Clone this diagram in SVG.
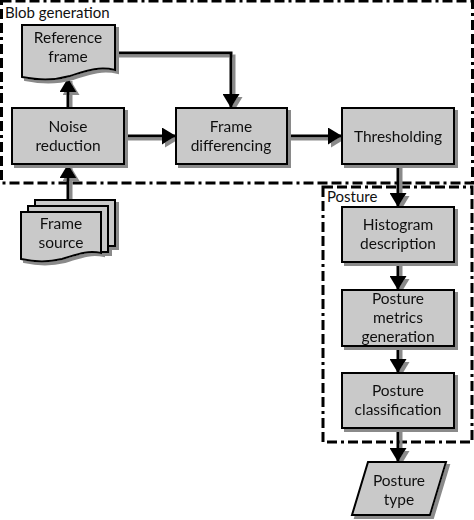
<svg xmlns="http://www.w3.org/2000/svg" width="474" height="520" viewBox="0 0 474 520">
<style>
.frame{fill:none;stroke:#000;stroke-width:3;stroke-dasharray:10 4 10 4 10 4 3 4}
.box{fill:#c9c9c9;stroke:#000;stroke-width:2}
.t{font-family:Lato,"Open Sans",sans-serif;font-size:15.5px;fill:#111;text-anchor:middle}
.lbl{font-family:Lato,"Open Sans",sans-serif;font-size:15px;fill:#111}
.c{fill:none;stroke:#000;stroke-width:3}
</style>
<defs>
<filter id="sh" x="-10%" y="-10%" width="130%" height="130%">
<feOffset in="SourceAlpha" dx="3" dy="3" result="o"/>
<feFlood flood-color="#8a8a8a"/>
<feComposite in2="o" operator="in" result="s"/>
<feMerge><feMergeNode in="s"/><feMergeNode in="SourceGraphic"/></feMerge>
</filter>
<marker id="ah" viewBox="0 0 14 17" markerUnits="userSpaceOnUse" markerWidth="14" markerHeight="17" refX="14" refY="8.5" orient="auto">
<path d="M0,0 L14,8.5 L0,17 Z" fill="#000"/>
</marker>
</defs>
<rect width="474" height="520" fill="#fff"/>
<g id="blob-generation">
<rect class="frame" x="1.5" y="1" width="471" height="182"/>
<text class="lbl" x="5" y="18">Blob generation</text>
</g>
<g id="posture-group">
<rect class="frame" x="323" y="187" width="149" height="255"/>
<text class="lbl" x="327" y="202">Posture</text>
</g>
<g id="connectors" filter="url(#sh)">
<path class="c" d="M68,200 V164" marker-end="url(#ah)"/>
<path class="c" d="M68,108 V78" marker-end="url(#ah)"/>
<path class="c" d="M124,136 H176" marker-end="url(#ah)"/>
<path class="c" d="M115,53 H231 V108" marker-end="url(#ah)"/>
<path class="c" d="M287,136 H342" marker-end="url(#ah)"/>
<path class="c" d="M398,164 V207" marker-end="url(#ah)"/>
<path class="c" d="M398,262 V290" marker-end="url(#ah)"/>
<path class="c" d="M398,346 V373" marker-end="url(#ah)"/>
<path class="c" d="M398,428 V462" marker-end="url(#ah)"/>
</g>
<g id="reference-frame" filter="url(#sh)">
<path class="box" d="M22,25 H115 V70 C98,66 86,71 70,76 C52,81 38,80 22,77 Z"/>
<text class="t" x="68" y="43">Reference</text>
<text class="t" x="68" y="62">frame</text>
</g>
<g id="noise-reduction" filter="url(#sh)">
<rect class="box" x="12" y="108" width="112" height="56"/>
<text class="t" x="68" y="132">Noise</text>
<text class="t" x="68" y="151">reduction</text>
</g>
<g id="frame-differencing" filter="url(#sh)">
<rect class="box" x="176" y="108" width="111" height="56"/>
<text class="t" x="231" y="132">Frame</text>
<text class="t" x="231" y="151">differencing</text>
</g>
<g id="thresholding" filter="url(#sh)">
<rect class="box" x="342" y="108" width="112" height="56"/>
<text class="t" x="398" y="142">Thresholding</text>
</g>
<g id="frame-source" filter="url(#sh)">
<rect class="box" x="35" y="200" width="80" height="46"/>
<rect class="box" x="28" y="206" width="80" height="46"/>
<path class="box" d="M21,212 H101 V253 C86,250 76,255 62,259 C46,263 34,262 21,259 Z"/>
<text class="t" x="61" y="229">Frame</text>
<text class="t" x="61" y="248">source</text>
</g>
<g id="histogram-description" filter="url(#sh)">
<rect class="box" x="342" y="207" width="112" height="55"/>
<text class="t" x="398" y="230">Histogram</text>
<text class="t" x="398" y="249">description</text>
</g>
<g id="posture-metrics-generation" filter="url(#sh)">
<rect class="box" x="342" y="290" width="112" height="56"/>
<text class="t" x="398" y="304">Posture</text>
<text class="t" x="398" y="323">metrics</text>
<text class="t" x="398" y="342">generation</text>
</g>
<g id="posture-classification" filter="url(#sh)">
<rect class="box" x="342" y="373" width="112" height="55"/>
<text class="t" x="398" y="396">Posture</text>
<text class="t" x="398" y="415">classification</text>
</g>
<g id="posture-type" filter="url(#sh)">
<path class="box" d="M368,462 H446 L430,515 H352 Z"/>
<text class="t" x="399" y="486">Posture</text>
<text class="t" x="399" y="505">type</text>
</g>
</svg>
